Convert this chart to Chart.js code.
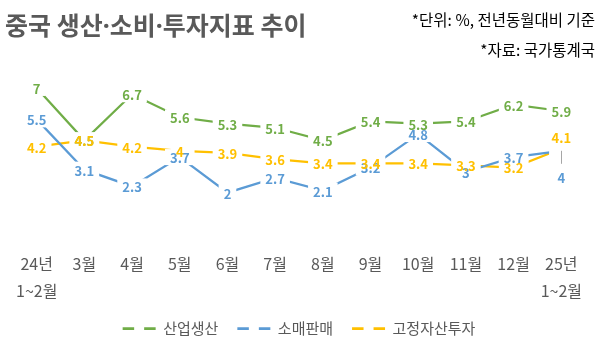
<!DOCTYPE html>
<html>
<head>
<meta charset="utf-8">
<script src="https://cdn.jsdelivr.net/npm/chart.js@4.4.1/dist/chart.umd.min.js"></script>
<style>
  html, body { margin: 0; padding: 0; background: #fff; }
  #wrap { position: relative; width: 598px; height: 340px; font-family: 'Noto Sans CJK KR', sans-serif; }
  #chart { position: absolute; left: 0; top: 0; }
  .title { position: absolute; left: 5px; top: 8px; line-height: 32px; font-size: 25px; font-weight: bold; color: #595959; white-space: nowrap; }
  .title .dot { font-family: 'Noto Sans', sans-serif; }
  .note { position: absolute; right: 3px; line-height: 20px; font-size: 15.5px; color: #000; white-space: nowrap; }
</style>
</head>
<body>
<div id="wrap">
  <canvas id="chart" width="598" height="340"></canvas>
  <div class="title">중국 생산<span class="dot">·</span>소비<span class="dot">·</span>투자지표 추이</div>
  <div class="note" style="top:9px">*단위: %, 전년동월대비 기준</div>
  <div class="note" style="top:39px">*자료: 국가통계국</div>
</div>
<script>
const months = [['24년', '1~2월'], '3월', '4월', '5월', '6월', '7월', '8월', '9월', '10월', '11월', '12월', ['25년', '1~2월']];
const production = [7, 4.5, 6.7, 5.6, 5.3, 5.1, 4.5, 5.4, 5.3, 5.4, 6.2, 5.9];
const retail = [5.5, 3.1, 2.3, 3.7, 2, 2.7, 2.1, 3.2, 4.8, 3, 3.7, 4];
const investment = [4.2, 4.5, 4.2, 4, 3.9, 3.6, 3.4, 3.4, 3.4, 3.3, 3.2, 4.1];

const FONT = "'Noto Sans CJK KR', sans-serif";

// value labels: white boxes first (they cut the lines), then the numbers
const valueLabels = {
  id: 'valueLabels',
  afterDatasetsDraw(chart, args, opts) {
    const {ctx} = chart;
    const items = [];
    ctx.save();
    ctx.font = 'bold 13px ' + FONT;
    ctx.textAlign = 'center';
    ctx.textBaseline = 'middle';
    chart.data.datasets.forEach((ds, di) => {
      const shifts = opts.shift[di] || {};
      chart.getDatasetMeta(di).data.forEach((pt, i) => {
        const dy = shifts[i] || 0;
        items.push({ text: String(ds.data[i]), color: ds.borderColor, x: pt.x, y: pt.y + dy, py: pt.y, dy });
      });
    });
    ctx.fillStyle = '#fff';
    items.forEach(it => {
      const w = ctx.measureText(it.text).width + 10;
      ctx.fillRect(it.x - w / 2, it.y - 8, w, 16);
      // a moved label still clears the lines around its point
      if (it.dy) ctx.fillRect(it.x - 12, it.py - 7, 24, 14);
    });
    items.forEach(it => {
      if (it.dy > 0) {
        // leader line back to the point
        ctx.strokeStyle = '#a6a6a6';
        ctx.lineWidth = 1;
        ctx.beginPath();
        ctx.moveTo(Math.round(it.x) + 0.5, it.py);
        ctx.lineTo(Math.round(it.x) + 0.5, it.y - 13);
        ctx.stroke();
      }
      ctx.fillStyle = it.color;
      ctx.fillText(it.text, it.x, it.y + 1);
    });
    ctx.restore();
  }
};

const line = (label, data, color) => ({
  label, data,
  borderColor: color,
  backgroundColor: color,
  borderWidth: 2.25,
  pointRadius: 0,
  tension: 0,
  fill: false
});

new Chart(document.getElementById('chart'), {
  type: 'line',
  data: {
    labels: months,
    datasets: [
      line('산업생산', production, '#70AD47'),
      line('소매판매', retail, '#5B9BD5'),
      line('고정자산투자', investment, '#FFC000')
    ]
  },
  options: {
    responsive: false,
    animation: false,
    events: [],
    layout: { padding: { top: 67, left: 6.6, right: 6.6, bottom: -6 } },
    plugins: {
      tooltip: { enabled: false },
      valueLabels: {
        // offsets (px) for labels moved off their point: dataset index -> point index
        shift: { 1: { 11: 26 }, 2: { 11: -12 } }
      },
      legend: {
        position: 'bottom',
        labels: {
          usePointStyle: true,
          pointStyle: 'line',
          pointStyleWidth: 33,
          padding: 19,
          color: '#595959',
          font: { size: 15, family: FONT },
          generateLabels(chart) {
            return Chart.defaults.plugins.legend.labels.generateLabels(chart)
              .map(item => Object.assign(item, { lineDash: [11.5, 10], lineWidth: 2.75 }));
          }
        }
      }
    },
    scales: {
      x: {
        offset: true,
        grid: { display: false, drawTicks: false },
        border: { display: false },
        afterFit(scale) { scale.height = 67.4; },
        ticks: {
          autoSkip: false,
          maxRotation: 0,
          padding: 16,
          color: '#595959',
          font: { size: 16, family: FONT, lineHeight: 1.7 }
        }
      },
      y: {
        display: false,
        min: 0,
        max: 8
      }
    }
  },
  plugins: [valueLabels]
});
</script>
</body>
</html>
